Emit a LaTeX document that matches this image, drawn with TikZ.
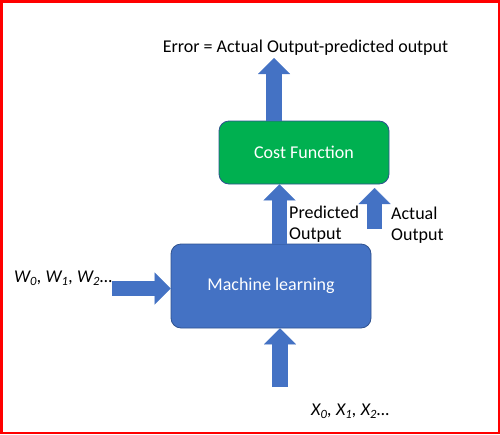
\documentclass[tikz,border=0pt]{standalone}
\usepackage{fontspec}
\setmainfont{Carlito}
\usetikzlibrary{arrows.meta,positioning,calc}
\definecolor{mlblue}{RGB}{68,114,196}
\definecolor{edgeblue}{RGB}{47,82,143}
\definecolor{costgreen}{RGB}{0,176,80}

\begin{document}
\begin{tikzpicture}[
    x=1pt, y=-1pt,
    every node/.style={font=\fontsize{18}{21}\selectfont},
    box/.style={rectangle, rounded corners=10pt, draw=edgeblue, line width=0.8pt, text=white, inner sep=0pt},
    lbl/.style={anchor=west, align=left, inner sep=0pt},
    blockarrow/.style={draw=mlblue, line width=15.5pt, -{Triangle[width=32pt, length=16pt, line width=0.01pt]}},
]
\useasboundingbox (0,0) rectangle (500,434);

% Frame
\draw[red, line width=2.5pt] (1.25,1.25) rectangle (498.75,432.75);

% --- BOXES ---
\node[box, fill=mlblue, minimum width=200pt, minimum height=84pt] (mlbox) at (271, 286) {Machine learning};
\node[box, fill=costgreen, minimum width=170pt, minimum height=63pt] (costbox) at (304, 152.5) {Cost Function};

% --- TEXTS ---
\node[inner sep=0pt] (errtext) at (305.5, 47.5) {Error = Actual Output-predicted output};
\node[lbl] (predlabel) at (289, 224) {Predicted\\Output};
\node[lbl] (actlabel) at (391, 225) {Actual\\Output};
\node[lbl, font=\fontsize{18}{21}\selectfont\itshape] (wlabel) at (14, 278) {W\textsubscript{0}, W\textsubscript{1}, W\textsubscript{2}\ldots};
\node[lbl, font=\fontsize{18}{21}\selectfont\itshape] (xlabel) at (311, 411) {X\textsubscript{0}, X\textsubscript{1}, X\textsubscript{2}\ldots};

% Free ends
\coordinate (errtip) at (274, 58);
\coordinate (actstart) at (374.5, 229);
\coordinate (acttip) at (374.5, 188);
\coordinate (wstart) at (112, 288.5);
\coordinate (xstart) at (280, 387);

% --- ARROWS ---
\draw[blockarrow] (errtip |- costbox.north) -- (errtip);
\draw[blockarrow] ([xshift=8.5pt]mlbox.north) -- ([xshift=8.5pt]mlbox.north |- costbox.south);
\draw[blockarrow] (actstart) -- (acttip);
\draw[blockarrow] (wstart) -- (wstart -| mlbox.west);
\draw[blockarrow] (xstart) -- (xstart |- mlbox.south);

\end{tikzpicture}
\end{document}
